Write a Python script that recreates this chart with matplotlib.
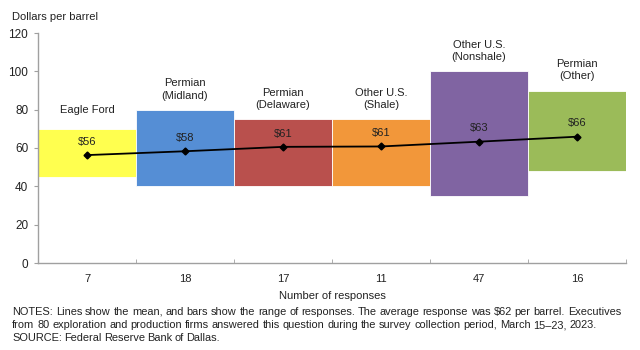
import matplotlib
matplotlib.use("Agg")
import matplotlib.pyplot as plt
import numpy as np

plt.rcParams['font.family'] = ['Liberation Sans', 'DejaVu Sans']

categories = ["Eagle Ford", "Permian\n(Midland)", "Permian\n(Delaware)",
              "Other U.S.\n(Shale)", "Other U.S.\n(Nonshale)", "Permian\n(Other)"]
responses = ["7", "18", "17", "11", "47", "16"]
low = [45, 40, 40, 40, 35, 48]
high = [70, 80, 75, 75, 100, 90]
mean = [56.3, 58.3, 60.6, 60.8, 63.3, 65.9]
mean_labels = ["$56", "$58", "$61", "$61", "$63", "$66"]
colors = ["#FFFF4F", "#558ED5", "#B9504D", "#F2973A", "#8064A2", "#9BBB59"]

fig = plt.figure(figsize=(6.4, 3.5), dpi=100)
ax = fig.add_axes([38/640, 1-263/350, (626-38)/640, 230/350])

x = np.arange(len(categories))
ax.bar(x, np.array(high) - np.array(low), bottom=low, width=1.0, color=colors,
       edgecolor='white', linewidth=0.6, zorder=2)
ax.plot(x, mean, color='black', lw=1.3, marker='D', markersize=3.5, zorder=3)

for i in x:
    ax.annotate(mean_labels[i], (i, mean[i]), xytext=(0, 6), textcoords='offset points',
                ha='center', va='bottom', fontsize=8, color='#222222', zorder=4)
    off = 6.5 if "\n" in categories[i] else 10
    ax.annotate(categories[i], (i, high[i]), xytext=(0, off), textcoords='offset points',
                ha='center', va='bottom', fontsize=8, color='#222222', linespacing=1.3)

ax.set_xlim(-0.5, len(categories) - 0.5)
ax.set_ylim(0, 120)
ax.set_yticks(range(0, 121, 20))
ax.set_xticks(x)
ax.set_xticklabels(responses)
ax.set_xticks(np.arange(-0.5, len(categories), 1.0), minor=True)
ax.tick_params(axis='x', which='major', length=0, pad=8, labelsize=8, colors='#222222')
ax.tick_params(axis='x', which='minor', length=3, color='#A0A0A0', direction='in')
ax.tick_params(axis='y', length=3, color='#A0A0A0', labelsize=8.5, labelcolor='#222222', pad=4)
for s in ['top', 'right']:
    ax.spines[s].set_visible(False)
for s in ['left', 'bottom']:
    ax.spines[s].set_color('#A0A0A0')
    ax.spines[s].set_linewidth(1.0)

fig.text(12/640, 1-17/350, "Dollars per barrel", fontsize=8, color='#222222', va='center')
fig.text(332/640, 1-296/350, "Number of responses", fontsize=8, color='#222222',
         ha='center', va='center')
notes = ["NOTES: Lines show the mean, and bars show the range of responses. The average response was $62 per barrel. Executives",
         "from 80 exploration and production firms answered this question during the survey collection period, March 15\u201323, 2023.",
         "SOURCE: Federal Reserve Bank of Dallas."]
line_ends = [621, 597, 220]

renderer = fig.canvas.get_renderer()
left_px = 12
for j, line in enumerate(notes):
    ypos = 1 - (312 + 13 * j) / 350
    words = line.split(" ")
    texts = [fig.text(0, ypos, w, fontsize=7.9, color='#222222', va='center') for w in words]
    widths = [t.get_window_extent(renderer).width for t in texts]
    gap = (line_ends[j] - left_px - sum(widths)) / (len(words) - 1)
    xcur = left_px
    for t, w in zip(texts, widths):
        t.set_x(xcur / 640)
        xcur += w + gap

fig.savefig("out.png", dpi=100)
